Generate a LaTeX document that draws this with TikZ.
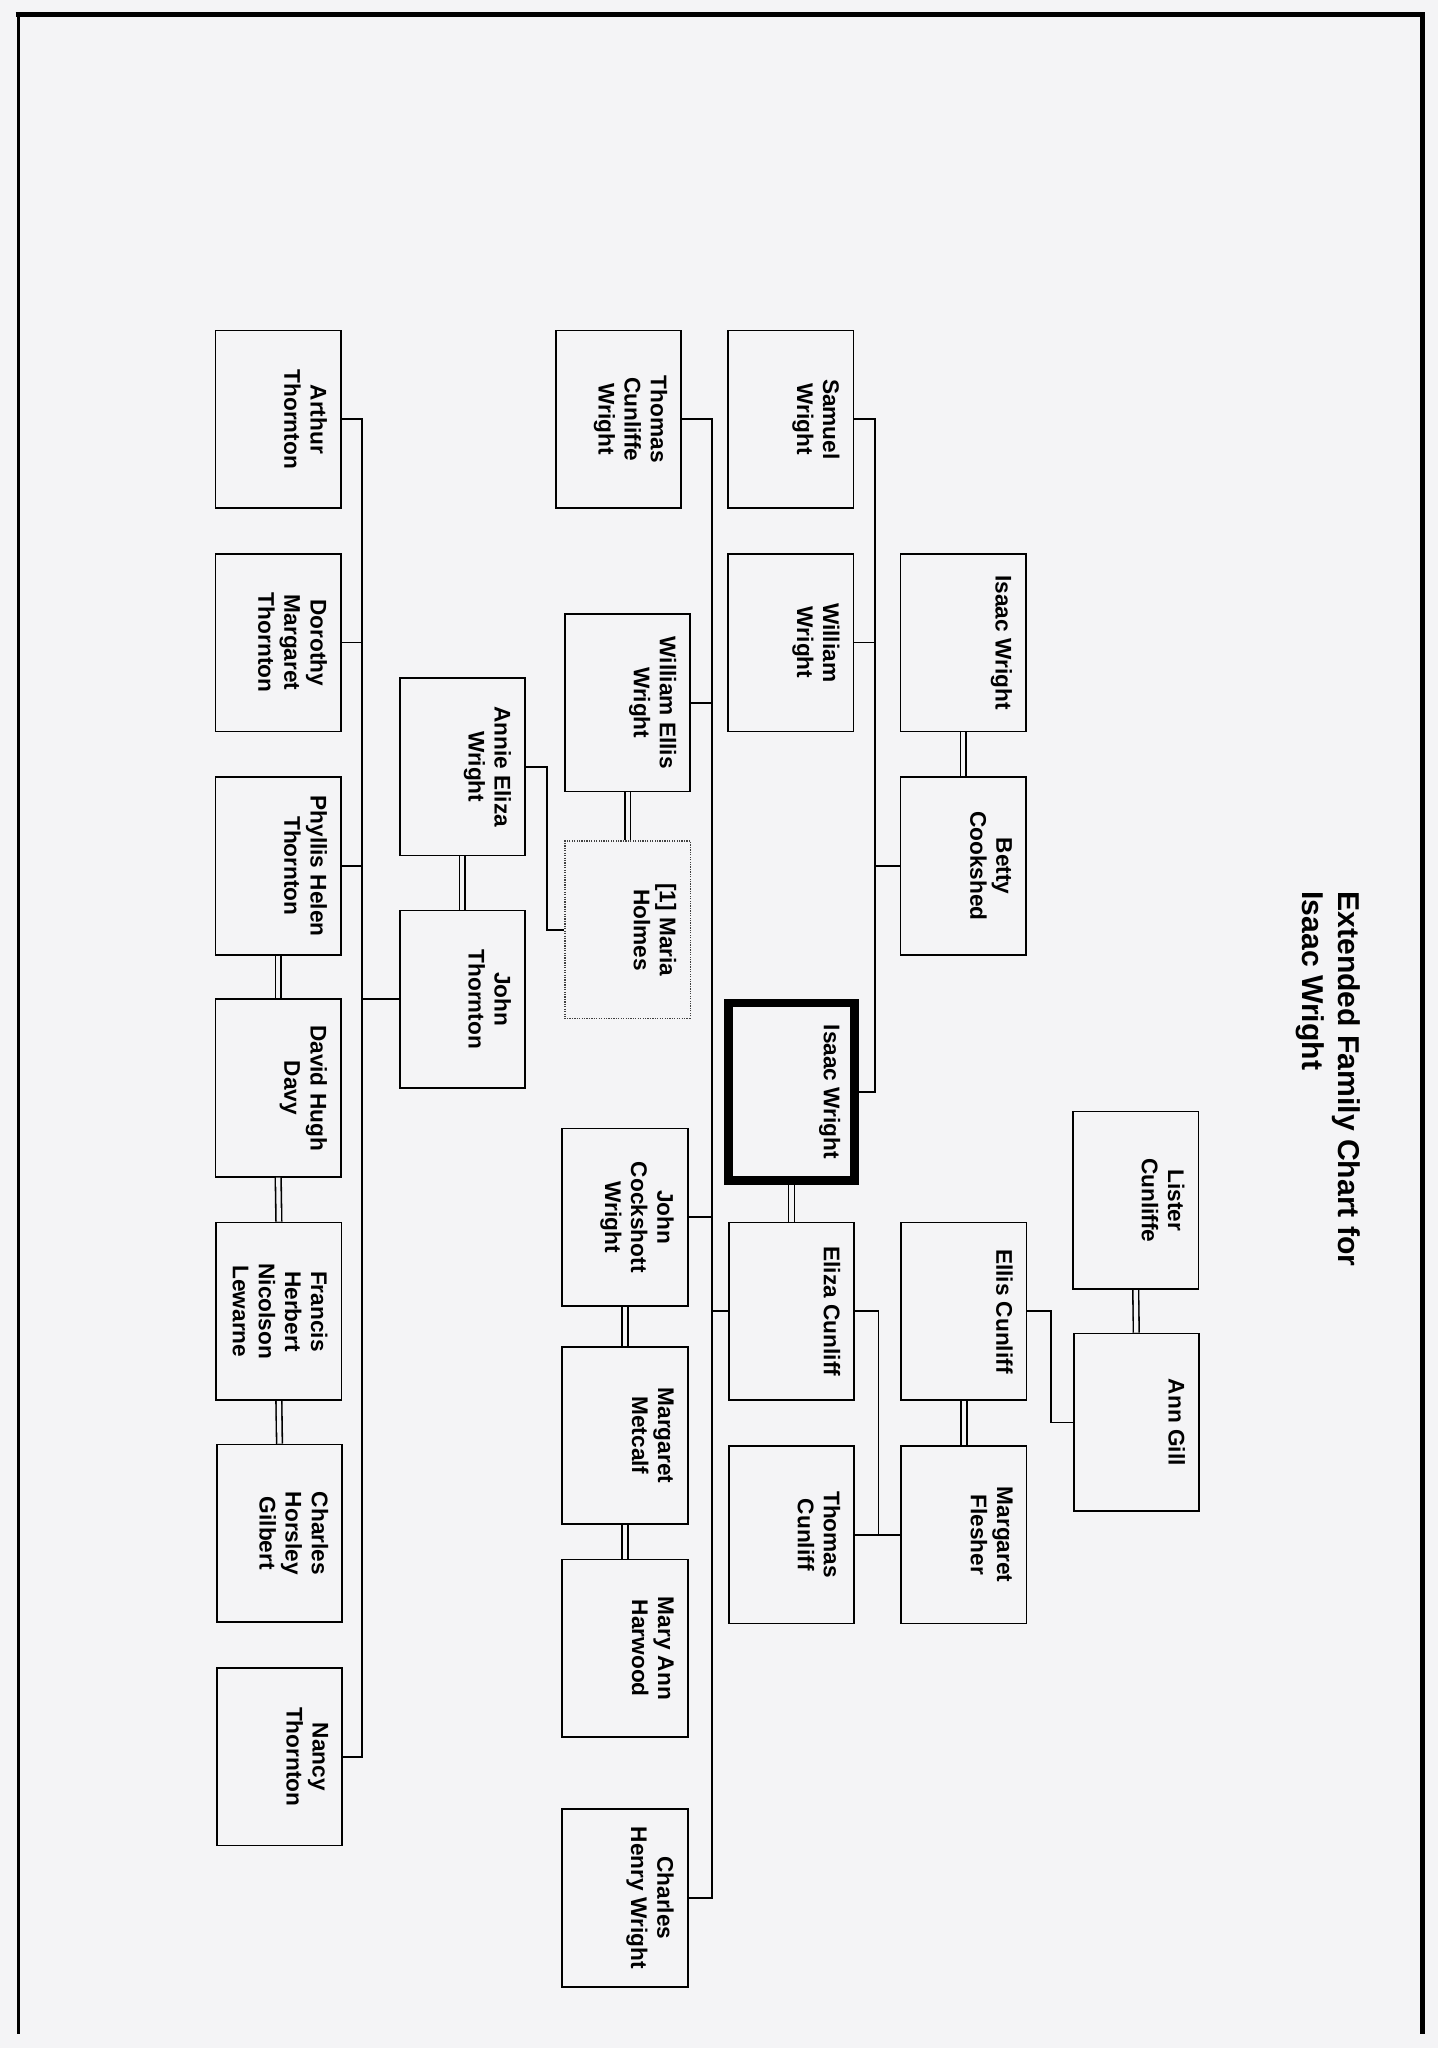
\documentclass[tikz,border=0pt]{standalone}
\usepackage{fontspec}
\setmainfont{Liberation Sans}
\definecolor{paper}{RGB}{244,244,246}

\tikzset{every picture/.style={line width=0.75pt}}
\tikzset{
  person/.style={draw, rotate=-90, inner xsep=4pt, inner ysep=8pt, line width=1pt, font=\bfseries\fontsize{13}{15}\selectfont},
  proband/.style={person, line width=5pt},
  unsure/.style={person, draw=black!75, line width=0.8pt, dash pattern={on 0.7pt off 0.7pt}},
  couple/.style={double=paper, double distance=2.4pt, line width=0.9pt},
  kin/.style={line width=1pt}
}
\newcommand{\nm}[1]{\parbox[c][56pt][t]{94pt}{\centering #1}}

\begin{document}
\begin{tikzpicture}[x=0.75pt,y=0.75pt,yscale=-1,xscale=1]
\fill[paper] (0,0) rectangle (1101,1568);
\useasboundingbox (0,0) rectangle (1101,1568);

%Page frame
\draw[line width=2pt] (14,1557) -- (14,11) ;
\draw[line width=3pt] (12,11) -- (1089,11) -- (1089,1557) ;

% Text Node
\node[rotate=-90, anchor=west, inner sep=0pt, align=left, font=\bfseries\fontsize{17.3}{20.3}\selectfont] (title) at (1017,682) {Extended Family Chart for\\Isaac Wright};

%Shape: Rectangle -- grandchildren row
\node[person] (arthur) at (213,321) {\nm{Arthur\\Thornton}};
\node[person] (dorothy) at (213,492) {\nm{Dorothy\\Margaret\\Thornton}};
\node[person] (phyllis) at (213,663) {\nm{Phyllis Helen\\Thornton}};
\node[person] (david) at (213,833) {\nm{David Hugh\\Davy}};
\node[person] (francis) at (213.5,1004) {\nm{Francis\\Herbert\\Nicolson\\Lewarne}};
\node[person] (charlesG) at (214,1174) {\nm{Charles\\Horsley\\Gilbert}};
\node[person] (nancy) at (214,1345) {\nm{Nancy\\Thornton}};

\node[person] (annie) at (354,587) {\nm{Annie Eliza\\Wright}};
\node[person] (johnT) at (354,765) {\nm{John\\Thornton}};

%Shape: Rectangle -- children
\node[person] (thomasCW) at (473.5,321) {\nm{Thomas\\Cunliffe\\Wright}};
\node[person] (williamE) at (480.5,538) {\nm{William Ellis\\Wright}};
\node[unsure] (maria) at (480.5,712) {\nm{[1] Maria\\Holmes}};
\node[person] (johnC) at (478.5,932) {\nm{John\\Cockshott\\Wright}};
\node[person] (margaretM) at (478.5,1099) {\nm{Margaret\\Metcalf}};
\node[person] (maryann) at (478.5,1262) {\nm{Mary Ann\\Harwood}};
\node[person] (charlesH) at (478.5,1453) {\nm{Charles\\Henry Wright}};

%Shape: Rectangle -- Isaac and siblings
\node[person] (samuel) at (605.5,321) {\nm{Samuel\\Wright}};
\node[person] (williamW) at (605.5,492) {\nm{William\\Wright}};
\node[proband] (isaac) at (606,836) {\nm{Isaac Wright}};
\node[person] (eliza) at (606,1004) {\nm{Eliza Cunliff}};
\node[person] (thomasC) at (606,1175) {\nm{Thomas\\Cunliff}};

%Shape: Rectangle -- parents
\node[person] (isaacE) at (737.5,492) {\nm{Isaac Wright}};
\node[person] (betty) at (737.5,663) {\nm{Betty\\Cookshed}};
\node[person] (ellis) at (738,1004) {\nm{Ellis Cunliff}};
\node[person] (margaretF) at (738,1175) {\nm{Margaret\\Flesher}};

%Shape: Rectangle -- grandparents
\node[person] (lister) at (869.5,919) {\nm{Lister\\Cunliffe}};
\node[person] (ann) at (870,1089) {\nm{Ann Gill}};

%Straight Lines -- marriages
\draw[couple] (isaacE.east) -- (betty.west) ;
\draw[couple] (lister.east) -- (ann.west) ;
\draw[couple] (ellis.east) -- (margaretF.west) ;
\draw[couple] (isaac.east) -- (eliza.west) ;
\draw[couple] (williamE.east) -- (maria.west) ;
\draw[couple] (johnC.east) -- (margaretM.west) ;
\draw[couple] (margaretM.east) -- (maryann.west) ;
\draw[couple] (annie.east) -- (johnT.west) ;
\draw[couple] (phyllis.east) -- (david.west) ;
\draw[couple] (david.east) -- (francis.west) ;
\draw[couple] (francis.east) -- (charlesG.west) ;

%Straight Lines -- children of Isaac Wright and Betty Cookshed
\coordinate (busD) at (670,0);
\draw[kin] (samuel.north) -| (busD |- isaac.north) -- (isaac.north) ;
\draw[kin] (williamW.north) -- (williamW.north -| busD) ;
\draw[kin] (betty.south) -- (betty.south -| busD) ;

%Straight Lines -- children of Ellis Cunliff and Margaret Flesher
\draw[kin] (eliza.north) -- ++(18,0) |- (thomasC.north) ;
\draw[kin] (thomasC.north) -- (margaretF.south) ;

%Straight Lines -- child of Lister Cunliffe and Ann Gill
\draw[kin] (ellis.north) -- ++(18,0) |- (ann.south) ;

%Straight Lines -- children of Isaac Wright and Eliza Cunliff
\coordinate (busC) at (545,0);
\draw[kin] (thomasCW.north) -| (busC |- charlesH.north) -- (charlesH.north) ;
\draw[kin] (williamE.north) -- (williamE.north -| busC) ;
\draw[kin] (johnC.north) -- (johnC.north -| busC) ;
\draw[kin] (eliza.south) -- (eliza.south -| busC) ;

%Straight Lines -- child of William Ellis Wright and Maria Holmes
\draw[kin] (annie.north) -- ++(16,0) |- (maria.south) ;

%Straight Lines -- children of Annie Eliza Wright and John Thornton
\coordinate (busA) at (277,0);
\draw[kin] (arthur.north) -| (busA |- nancy.north) -- (nancy.north) ;
\draw[kin] (dorothy.north) -- (dorothy.north -| busA) ;
\draw[kin] (phyllis.north) -- (phyllis.north -| busA) ;
\draw[kin] (johnT.south) -- (johnT.south -| busA) ;

\end{tikzpicture}
\end{document}
